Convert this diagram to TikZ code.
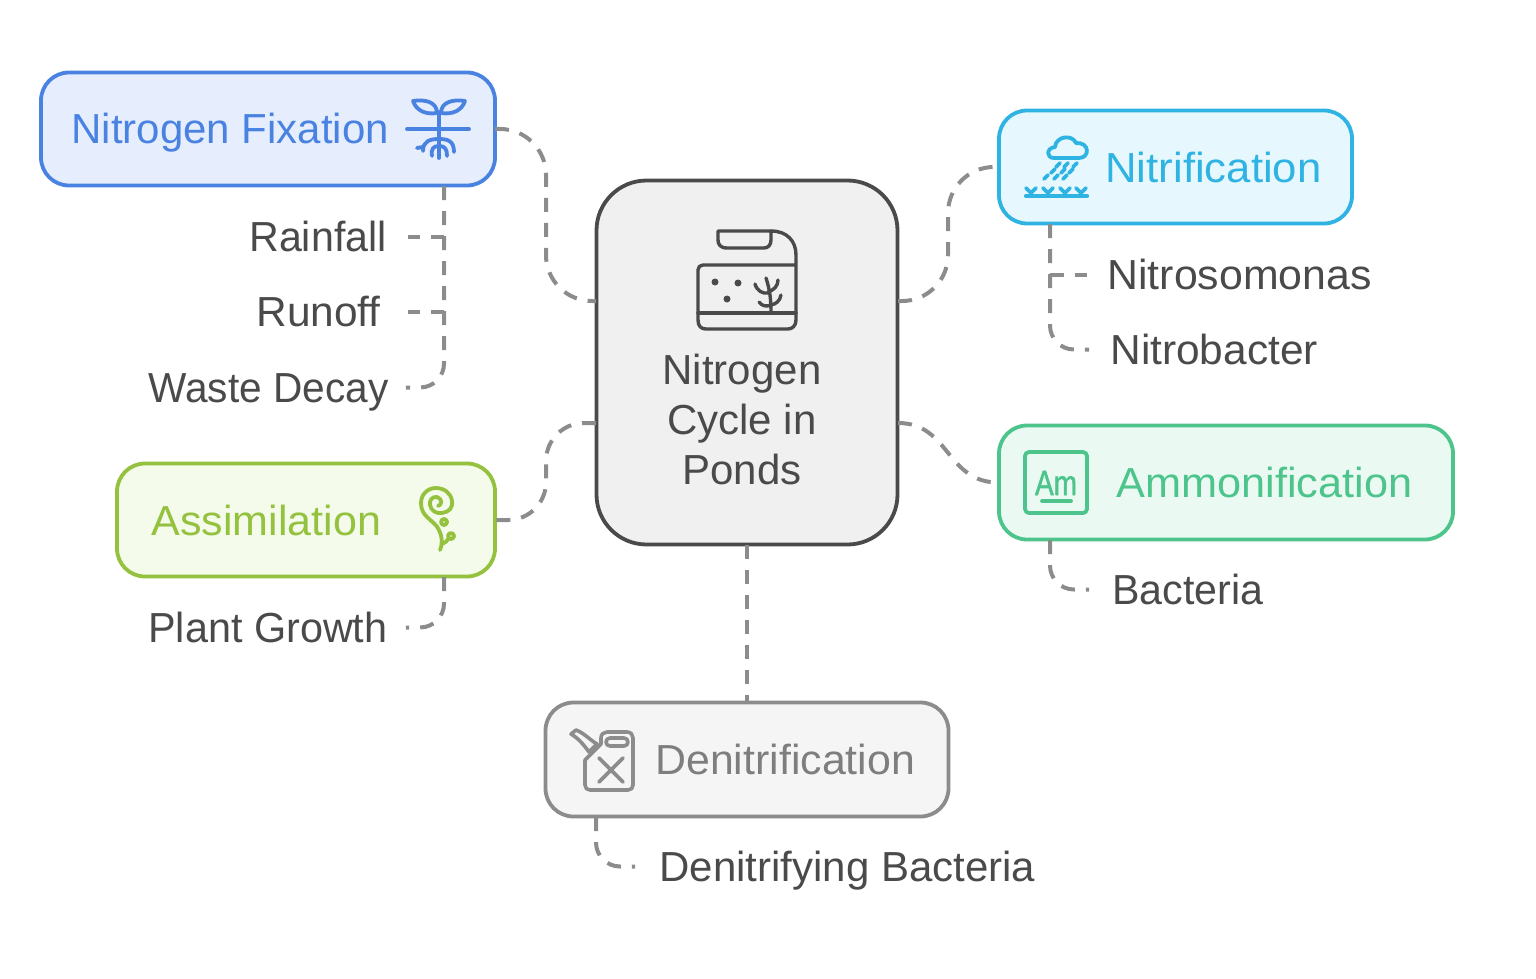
\documentclass[tikz,border=0pt]{standalone}
\usepackage{fontspec}
\setmainfont{Liberation Sans}
\newfontfamily\amfont[FakeBold=1.6]{Liberation Sans}
\usepackage{xcolor}
\usetikzlibrary{calc}
\definecolor{fixline}{HTML}{4A82E2}
\definecolor{fixfill}{HTML}{E6EEFD}
\definecolor{nitline}{HTML}{2FB3E3}
\definecolor{nitfill}{HTML}{E6F7FE}
\definecolor{ammline}{HTML}{4CC48B}
\definecolor{ammfill}{HTML}{EAFAF3}
\definecolor{assline}{HTML}{94C23F}
\definecolor{assfill}{HTML}{F4FBEA}
\definecolor{denline}{HTML}{8C8C8C}
\definecolor{denfill}{HTML}{F5F5F5}
\definecolor{cenline}{HTML}{4A4A4A}
\definecolor{cenfill}{HTML}{F0F0F0}

\begin{document}
\begin{tikzpicture}[
    x=0.5pt, y=-0.5pt,
    box/.style={draw, rectangle, line width=1.9pt, rounded corners=14pt, outer sep=0, inner sep=0},
    boxtext/.style={anchor=base west, inner sep=0, font=\fontsize{21}{25}\selectfont},
    lab/.style={anchor=base west, inner sep=0, text=cenline, text height=17pt, text depth=2pt, font=\fontsize{21}{25}\selectfont},
    link/.style={draw=denline, line width=2pt, dash pattern=on 7pt off 5.5pt},
    icon/.style={line width=1.9pt, line cap=round, line join=round}]
\useasboundingbox (0,0) rectangle (1536,979);

\node[box, draw=cenline, fill=cenfill, minimum width=150.5pt, minimum height=182pt, rounded corners=25pt] (Center) at (747,362.5) {};
\node[box, draw=fixline, fill=fixfill, minimum width=227pt, minimum height=56.5pt] (Fixation) at (268,129) {};
\node[box, draw=nitline, fill=nitfill, minimum width=176.5pt, minimum height=56.5pt] (Nitrification) at (1175.5,167) {};
\node[box, draw=ammline, fill=ammfill, minimum width=227pt, minimum height=57pt] (Ammonification) at (1226,482.5) {};
\node[box, draw=assline, fill=assfill, minimum width=189pt, minimum height=56.5pt] (Assimilation) at (306,520) {};
\node[box, draw=denline, fill=denfill, minimum width=201.5pt, minimum height=57pt] (Denitrification) at (747,759.5) {};

\node[boxtext, text=fixline] (FixationText) at (71,143.5) {Nitrogen Fixation};
\node[boxtext, text=nitline, xscale=1.04] (NitrificationText) at (1105,182.5) {Nitrification};
\node[boxtext, text=ammline, xscale=1.03] (AmmonificationText) at (1116,497.5) {Ammonification};
\node[boxtext, text=assline, xscale=1.025] (AssimilationText) at (151,535.5) {Assimilation};
\node[boxtext, text=denline!90!black, xscale=1.02] (DenitrificationText) at (655,774.5) {Denitrification};
\node[align=center, inner sep=0, text=cenline, font=\fontsize{21}{25}\selectfont] (CenterText) at (742,419.5) {Nitrogen\\Cycle in\\Ponds};

\node[lab, xscale=.98] (Rainfall) at (249,251.5) {Rainfall};
\node[lab, xscale=1.01] (Runoff) at (256,326.5) {Runoff};
\node[lab, xscale=.967] (WasteDecay) at (148,402.5) {Waste Decay};
\node[lab, xscale=.985] (PlantGrowth) at (148,642.5) {Plant Growth};
\node[lab, xscale=1.02] (Nitrosomonas) at (1107,289.5) {Nitrosomonas};
\node[lab, xscale=1.01] (Nitrobacter) at (1110,364.5) {Nitrobacter};
\node[lab, xscale=.98] (Bacteria) at (1112,604.5) {Bacteria};
\node[lab] (DenitBacteria) at (659,881.5) {Denitrifying Bacteria};

\coordinate (busW) at (546,215);
\coordinate (busE) at (948,235);
\coordinate (busA) at (546,470);
\coordinate (westUp) at (596,301);
\coordinate (westLo) at (596,423);
\coordinate (eastUp) at (898,301);
\coordinate (eastLo) at (898,423);
\coordinate (fixDrop) at (444,186);
\coordinate (assDrop) at (444,577);
\coordinate (nitDrop) at (1050,224);
\coordinate (ammDrop) at (1050,540);
\coordinate (denDrop) at (596,817);

\path[link, rounded corners=23pt] (Fixation.east) -- (Fixation.east -| busW) -- (busW |- westUp) -- (westUp);
\path[link, rounded corners=23pt] (eastUp) -- (eastUp -| busE) -- (busE |- Nitrification.west) -- (Nitrification.west);
\path[link, rounded corners=19pt] (westLo) -- (westLo -| busA) -- (busA |- Assimilation.east) -- (Assimilation.east);
\path[link] (eastLo) .. controls (950,423) and (946,483) .. (Ammonification.west);
\path[link] (Center.south) -- (Denitrification.north);
\path[link] (fixDrop) |- ([xshift=10.5pt]Rainfall.east);
\path[link] (fixDrop) |- ([xshift=13.5pt]Runoff.east);
\path[link, rounded corners=12pt] (fixDrop) |- ([xshift=8.5pt]WasteDecay.east);
\path[link, rounded corners=12pt] (assDrop) |- ([xshift=9pt]PlantGrowth.east);
\path[link] (nitDrop) |- ([xshift=-10pt]Nitrosomonas.west);
\path[link, rounded corners=12pt] (nitDrop) |- ([xshift=-10.5pt]Nitrobacter.west);
\path[link, rounded corners=12pt] (ammDrop) |- ([xshift=-11.5pt]Bacteria.west);
\path[link, rounded corners=12pt] (denDrop) |- ([xshift=-12pt]DenitBacteria.west);

% center icon
\begin{scope}[icon, draw=cenline, line width=1.7pt]
\draw (718,231) -- (771,231) -- (771,240) .. controls (771,245) and (768,248) .. (764,248) -- (727,248) .. controls (720,248) and (718,244) .. (718,240) -- cycle;
\draw (771,231) .. controls (787,231) and (796,241) .. (796,255) -- (796,320) .. controls (796,326) and (792,329) .. (788,329) -- (706,329) .. controls (701,329) and (698,326) .. (698,320) -- (698,270) .. controls (698,267) and (700,265) .. (703,265) -- (796,265);
\draw (698,313) -- (796,313);
\draw (771,313) .. controls (771,300) and (770,290) .. (766,278);
\draw (755,284) .. controls (757,291) and (763,294) .. (768,293);
\draw (778,280) .. controls (778,286) and (774,290) .. (768,292);
\draw (759,302) .. controls (762,306) and (766,307) .. (771,305);
\draw (781,295) .. controls (780,301) and (776,304) .. (771,305);
\fill[cenline] (715,282) circle (3.5) (738,283) circle (3.5) (727,299) circle (3.5);
\end{scope}

% fixation icon
\begin{scope}[icon, draw=fixline]
\draw (407,129) -- (469,129);
\draw (439,112) -- (439,158);
\draw (413,101) .. controls (425,99) and (437,102) .. (437,113) .. controls (425,115) and (416,110) .. (413,101) -- cycle;
\draw (465,101) .. controls (453,99) and (441,102) .. (441,113) .. controls (453,115) and (462,110) .. (465,101) -- cycle;
\draw (439,139) .. controls (430,139) and (423,141) .. (423,151);
\draw (439,139) .. controls (448,139) and (454,141) .. (454,152);
\draw (417,148) -- (423,147);
\draw (432,156) .. controls (431,149) and (433,146) .. (439,146);
\draw (447,156) .. controls (447,149) and (445,146) .. (439,146);
\end{scope}

% nitrification icon
\begin{scope}[icon, draw=nitline]
\draw (1054,158) .. controls (1046,158) and (1046,148) .. (1055,147) .. controls (1056,136) and (1072,134) .. (1076,143) .. controls (1090,142) and (1090,158) .. (1079,158) -- cycle;
\draw (1060,163) -- (1056,167) (1068,163) -- (1064,167) (1077,163) -- (1073,167);
\draw (1055,169) -- (1051,173) (1065,169) -- (1061,173) (1073,169) -- (1069,173);
\draw (1048,175) -- (1044,179) (1058,175) -- (1054,179) (1067,175) -- (1063,179);
\draw[line width=2.1pt] (1026,196) -- (1087,196);
\foreach \sx in {1031,1048,1065,1081}
  \draw (\sx-5,188) -- (\sx,193) -- (\sx+5,188) (\sx,193) -- (\sx,196);
\end{scope}

% ammonification icon
\begin{scope}[icon, draw=ammline]
\draw[rounded corners=2pt] (1025,452) rectangle (1087,513);
\draw (1042,501) -- (1071,501);
\node[inner sep=0, text=ammline, xscale=.8, font=\amfont\fontsize{17.5}{18}\selectfont] (AmIcon) at (1056,483) {Am};
\end{scope}

% assimilation icon
\begin{scope}[icon, draw=assline]
\draw (438,506) .. controls (442,505) and (443,499) .. (437,497) .. controls (432,496) and (429,501) .. (430,505) .. controls (431,511) and (437,514) .. (442,513) .. controls (449,512) and (453,508) .. (452,501) .. controls (451,493) and (444,488) .. (436,488) .. controls (427,488) and (421,495) .. (421,503) .. controls (421,509) and (423,513) .. (427,517) .. controls (431,521) and (437,525) .. (439,530) .. controls (442,536) and (443,543) .. (440,550);
\draw (442,544) .. controls (445,543) and (447,541) .. (449,538);
\draw (444,522) circle (3) (451,536) circle (3);
\end{scope}

% denitrification icon
\begin{scope}[icon, draw=denline, line width=1.8pt]
\draw (585,760) -- (601,744) -- (601,738) .. controls (601,734) and (604,732) .. (607,732) -- (627,732) .. controls (631,732) and (633,735) .. (633,738) -- (633,785) .. controls (633,788) and (631,790) .. (628,790) -- (590,790) .. controls (587,790) and (585,788) .. (585,785) -- cycle;
\draw[rounded corners=2pt] (606,738) rectangle (628,746);
\draw (599,758) -- (623,782) (623,758) -- (599,782);
\draw (571,734) -- (576,730) .. controls (584,733) and (590,740) .. (597,744) -- (589,752) .. controls (584,745) and (578,738) .. (571,734) -- cycle;
\end{scope}
\end{tikzpicture}
\end{document}
